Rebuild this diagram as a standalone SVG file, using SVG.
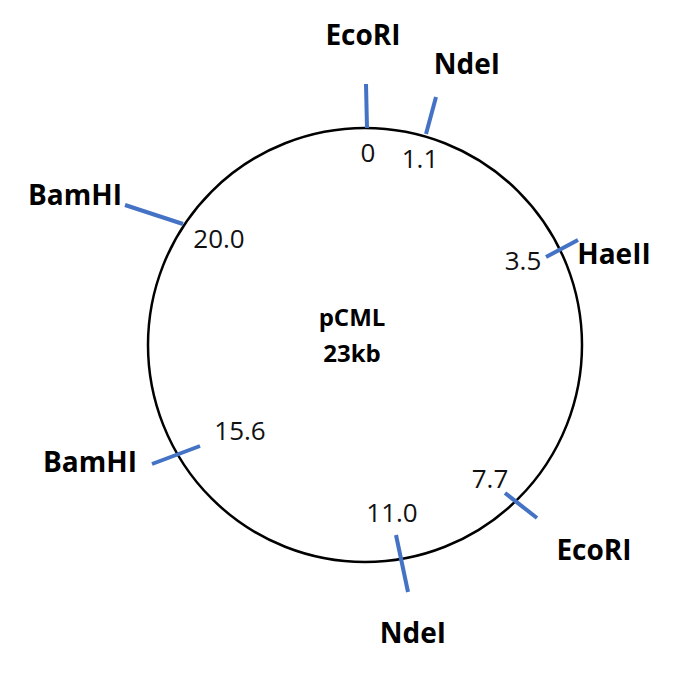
<svg xmlns="http://www.w3.org/2000/svg" width="697" height="674" viewBox="0 0 697 674">
<style>
.b{font-family:"Open Sans","Liberation Sans",sans-serif;font-weight:bold;font-size:28px;fill:#000;text-anchor:middle}
.c{font-family:"Open Sans","Liberation Sans",sans-serif;font-weight:bold;font-size:24px;fill:#000;text-anchor:middle}
.n{font-family:"Open Sans","Liberation Sans",sans-serif;font-size:26px;fill:#111;text-anchor:middle}
.t{stroke:#4472C4;stroke-width:4;stroke-linecap:butt}
</style>
<rect width="697" height="674" fill="#fff"/>
<g id="plasmid"><circle cx="365" cy="345" r="217" fill="none" stroke="#000" stroke-width="2.5"/>
<text class="c" x="352" y="326">pCML</text><text class="c" x="352" y="362">23kb</text></g>
<g id="connectors">
<line class="t" x1="366" y1="84" x2="367" y2="128"/>
<line class="t" x1="436" y1="97" x2="426" y2="134"/>
<line class="t" x1="578" y1="240" x2="546" y2="257"/>
<line class="t" x1="505" y1="493" x2="537" y2="518"/>
<line class="t" x1="396" y1="535" x2="408" y2="592"/>
<line class="t" x1="152" y1="464" x2="200" y2="446"/>
<line class="t" x1="125" y1="205" x2="183" y2="224"/>
</g>
<g id="n1"><text class="b" x="363" y="45">EcoRI</text><text class="n" x="368" y="162">0</text></g>
<g id="n2"><text class="b" x="467" y="74">NdeI</text><text class="n" x="420" y="168">1.1</text></g>
<g id="n3"><text class="b" x="614" y="264">HaeII</text><text class="n" x="523" y="270">3.5</text></g>
<g id="n4"><text class="b" x="594" y="560">EcoRI</text><text class="n" x="490" y="488">7.7</text></g>
<g id="n5"><text class="b" x="413" y="643">NdeI</text><text class="n" x="392" y="522">11.0</text></g>
<g id="n6"><text class="b" x="90" y="472">BamHI</text><text class="n" x="240" y="440">15.6</text></g>
<g id="n7"><text class="b" x="75" y="205">BamHI</text><text class="n" x="219" y="248">20.0</text></g>
</svg>
